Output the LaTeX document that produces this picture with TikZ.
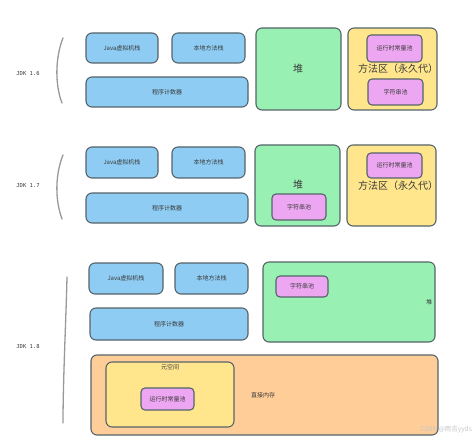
\documentclass[tikz,border=0pt]{standalone}
\usepackage{fontspec}
\setmainfont{Noto Sans CJK SC}
\newfontfamily\hand{DejaVu Sans Mono}
\definecolor{cblue}{HTML}{8ECCF3}
\definecolor{cgreen}{HTML}{98F0B2}
\definecolor{cyellow}{HTML}{FFE68C}
\definecolor{cpink}{HTML}{EDA6F1}
\definecolor{corange}{HTML}{FFCD98}
\definecolor{cline}{HTML}{55646A}
\definecolor{ctext}{HTML}{3A3A3A}
\tikzset{
  box/.style={draw=cline, line width=1.1pt, rounded corners=6pt, inner sep=0pt, text=ctext, font=\fontsize{6}{7}\selectfont},
  bluebox/.style={box, fill=cblue},
  greenbox/.style={box, fill=cgreen},
  yellowbox/.style={box, fill=cyellow},
  pinkbox/.style={box, fill=cpink, rounded corners=4pt},
  orangebox/.style={box, fill=corange},
  biglabel/.style={text=ctext, font=\fontsize{10}{12}\selectfont, inner sep=0pt},
  smalllabel/.style={text=ctext, font=\fontsize{6}{7}\selectfont, inner sep=0pt},
  jdk/.style={text=ctext, font=\hand\fontsize{5.5}{6}\selectfont, inner sep=0pt},
  brace/.style={draw=gray!80, line width=1.3pt, line cap=round}
}
\begin{document}
\begin{tikzpicture}[x=1pt,y=-1pt]
\useasboundingbox[fill=white] (0,0) rectangle (474,441);
% ---------- JDK 1.6 ----------
\node[jdk] (l16) at (28,73) {JDK 1.6};
\coordinate (b16a) at (63,38);
\coordinate (b16b) at (62,103);
\draw[brace] (b16a) .. controls (55,58) and (55,85) .. (b16b);
\node[bluebox, minimum width=72, minimum height=30] (jvm16) at (122,48) {Java虚拟机栈};
\node[bluebox, minimum width=73, minimum height=30] (nat16) at (208.5,48) {本地方法栈};
\node[bluebox, minimum width=162, minimum height=30] (pc16) at (167,92) {程序计数器};
\node[greenbox, minimum width=85, minimum height=82] (heap16) at (298.5,69) {};
\node[biglabel] (heapt16) at (298,69) {堆};
\node[yellowbox, minimum width=89, minimum height=82] (ma16) at (392.5,69) {};
\node[biglabel] (mat16) at (398,69) {方法区（永久代）};
\node[pinkbox, minimum width=55, minimum height=27] (rcp16) at (394.5,48.5) {运行时常量池};
\node[pinkbox, minimum width=55, minimum height=26] (sp16) at (395.5,92) {字符串池};
% ---------- JDK 1.7 ----------
\node[jdk] (l17) at (28,186) {JDK 1.7};
\coordinate (b17a) at (63,155);
\coordinate (b17b) at (62,219);
\draw[brace] (b17a) .. controls (55,175) and (55,200) .. (b17b);
\node[bluebox, minimum width=72, minimum height=31] (jvm17) at (122,162.5) {Java虚拟机栈};
\node[bluebox, minimum width=73, minimum height=31] (nat17) at (208.5,162.5) {本地方法栈};
\node[bluebox, minimum width=162, minimum height=30] (pc17) at (167,208) {程序计数器};
\node[greenbox, minimum width=85, minimum height=81] (heap17) at (297.5,185.5) {};
\node[biglabel] (heapt17) at (298,185) {堆};
\node[pinkbox, minimum width=54, minimum height=26] (sp17) at (299,207) {字符串池};
\node[yellowbox, minimum width=89, minimum height=81] (ma17) at (391.5,185.5) {};
\node[biglabel] (mat17) at (398,186) {方法区（永久代）};
\node[pinkbox, minimum width=55, minimum height=25] (rcp17) at (394.5,165.5) {运行时常量池};
% ---------- JDK 1.8 ----------
\node[jdk] (l18) at (28,346) {JDK 1.8};
\coordinate (b18a) at (67,277);
\coordinate (b18b) at (63,423);
\draw[brace] (b18a) .. controls (66,320) and (63,380) .. (b18b);
\node[bluebox, minimum width=74, minimum height=31] (jvm18) at (126,278.5) {Java虚拟机栈};
\node[bluebox, minimum width=73, minimum height=31] (nat18) at (211.5,278.5) {本地方法栈};
\node[bluebox, minimum width=158, minimum height=32] (pc18) at (169,324) {程序计数器};
\node[greenbox, minimum width=172, minimum height=80] (heap18) at (349,302) {};
\node[smalllabel] (heapt18) at (429,302) {堆};
\node[pinkbox, minimum width=52, minimum height=21] (sp18) at (302,286.5) {字符串池};
\node[orangebox, minimum width=347, minimum height=80] (dm18) at (264.5,395) {};
\node[smalllabel] (dmt18) at (263,395) {直接内存};
\node[yellowbox, minimum width=128, minimum height=65] (meta18) at (170,394.5) {};
\node[smalllabel] (metat18) at (170,367) {元空间};
\node[pinkbox, minimum width=53, minimum height=22] (rcp18) at (167.5,399) {运行时常量池};
% watermark
\node[text=black!22, font=\fontsize{6.5}{7}\selectfont, inner sep=0pt, anchor=east] (wm) at (472,430) {CSDN @雨吉yyds};
\end{tikzpicture}
\end{document}
